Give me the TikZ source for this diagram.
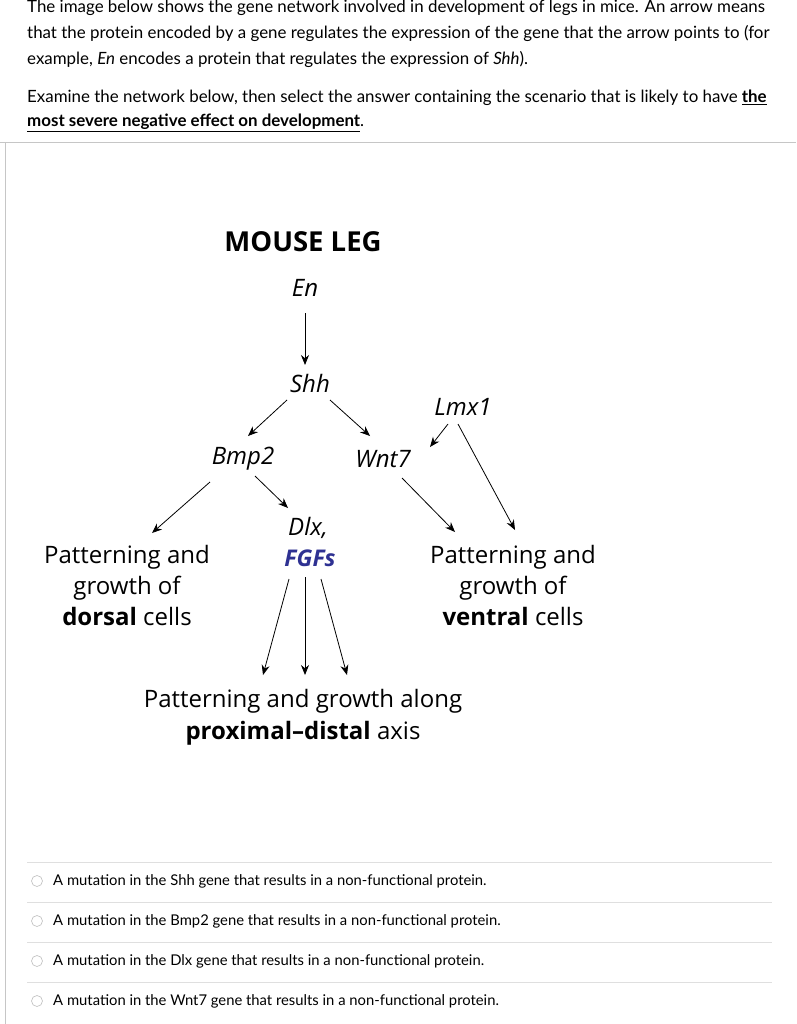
\documentclass[tikz,border=0pt]{standalone}
\usepackage{fontspec}
\setmainfont{Lato}
\newfontfamily\dsans{Open Sans}
\usetikzlibrary{arrows.meta}
\begin{document}
\begin{tikzpicture}[x=1pt,y=-1pt,
  q/.style={anchor=west,inner sep=0pt,font=\fontsize{16.9}{18}\selectfont},
  g/.style={inner sep=1pt,font=\dsans\fontsize{24}{28}\selectfont\itshape},
  p/.style={inner sep=0pt,align=center,font=\dsans\fontsize{24}{31}\selectfont},
  ar/.style={-{Stealth[length=10pt,width=8pt]},line width=0.8pt},
  opt/.style={anchor=west,inner sep=0pt,font=\fontsize{14.8}{16}\selectfont},
  rad/.style={draw=gray!50,line width=0.6pt},
  sep/.style={draw=gray!25,line width=0.8pt}]
\useasboundingbox (0,0) rectangle (796,1024);
\fill[white] (0,0) rectangle (796,1024);
\draw[gray!45,line width=1pt] (0,143) -- (796,143);
\draw[gray!45,line width=1pt] (5,143) -- (5,1024);
\node[q] (t1) at (27,8) {The image below shows the gene network involved in development of legs in mice. An arrow means};
\node[q] (t2) at (27,33) {that the protein encoded by a gene regulates the expression of the gene that the arrow points to (for};
\node[q] (t3) at (27,59) {example, \textit{En} encodes a protein that regulates the expression of \textit{Shh}).};
\node[q] (t4) at (27,98) {Examine the network below, then select the answer containing the scenario that is likely to have \textbf{\underline{the}}};
\node[q] (t5) at (27,123) {\textbf{\underline{most severe negative effect on development}}.};

\node[font=\dsans\bfseries\fontsize{27.5}{30}\selectfont] (title) at (303,242) {MOUSE LEG};
\node[g] (en) at (305,288) {En};
\node[g] (shh) at (310,383) {Shh};
\node[g] (lmx) at (463,407) {Lmx1};
\node[g] (bmp) at (243,459) {Bmp2};
\node[g] (wnt) at (383,459) {Wnt7};
\node[g] (dlx) at (308,528) {Dlx,};
\node[g,font=\dsans\bfseries\itshape\fontsize{23}{24}\selectfont,text={rgb,255:red,46;green,49;blue,146}] (fgf) at (310,558) {FGFs};
\node[p] (dor) at (127,585) {Patterning and\\growth of\\\textbf{dorsal} cells};
\node[p] (ven) at (513,585) {Patterning and\\growth of\\\textbf{ventral} cells};
\node[p,font=\dsans\fontsize{24}{32}\selectfont] (pd) at (303,717) {Patterning and growth along\\\textbf{proximal–distal} axis};

\coordinate (a1) at (305,313); \coordinate (a2) at (305,365);
\draw[ar] (a1) -- (a2);
\coordinate (b1) at (287,400); \coordinate (b2) at (248,436); \draw[ar] (b1) -- (b2);
\coordinate (c1) at (330,400); \coordinate (c2) at (370,436); \draw[ar] (c1) -- (c2);
\coordinate (d1) at (448,424); \coordinate (d2) at (430,447); \draw[ar] (d1) -- (d2);
\coordinate (e1) at (458,424); \coordinate (e2) at (515,530); \draw[ar] (e1) -- (e2);
\coordinate (f1) at (210,482); \coordinate (f2) at (152,533); \draw[ar] (f1) -- (f2);
\coordinate (h1) at (255,476); \coordinate (h2) at (288,508); \draw[ar] (h1) -- (h2);
\coordinate (i1) at (402,478); \coordinate (i2) at (455,532); \draw[ar] (i1) -- (i2);
\coordinate (j1) at (289,579); \coordinate (j2) at (263,675); \draw[ar] (j1) -- (j2);
\coordinate (k1) at (305,577); \coordinate (k2) at (305,675); \draw[ar] (k1) -- (k2);
\coordinate (l1) at (321,579); \coordinate (l2) at (347,675); \draw[ar] (l1) -- (l2);

\foreach \y in {862,902,942,982} \draw[sep] (27,\y) -- (772,\y);
\foreach \y in {881,921,961,1001} \draw[rad] (37,\y) circle (5.5);
\node[opt] (o1) at (53,881) {A mutation in the Shh gene that results in a non-functional protein.};
\node[opt] (o2) at (53,921) {A mutation in the Bmp2 gene that results in a non-functional protein.};
\node[opt] (o3) at (53,961) {A mutation in the Dlx gene that results in a non-functional protein.};
\node[opt] (o4) at (53,1001) {A mutation in the Wnt7 gene that results in a non-functional protein.};
\end{tikzpicture}
\end{document}
